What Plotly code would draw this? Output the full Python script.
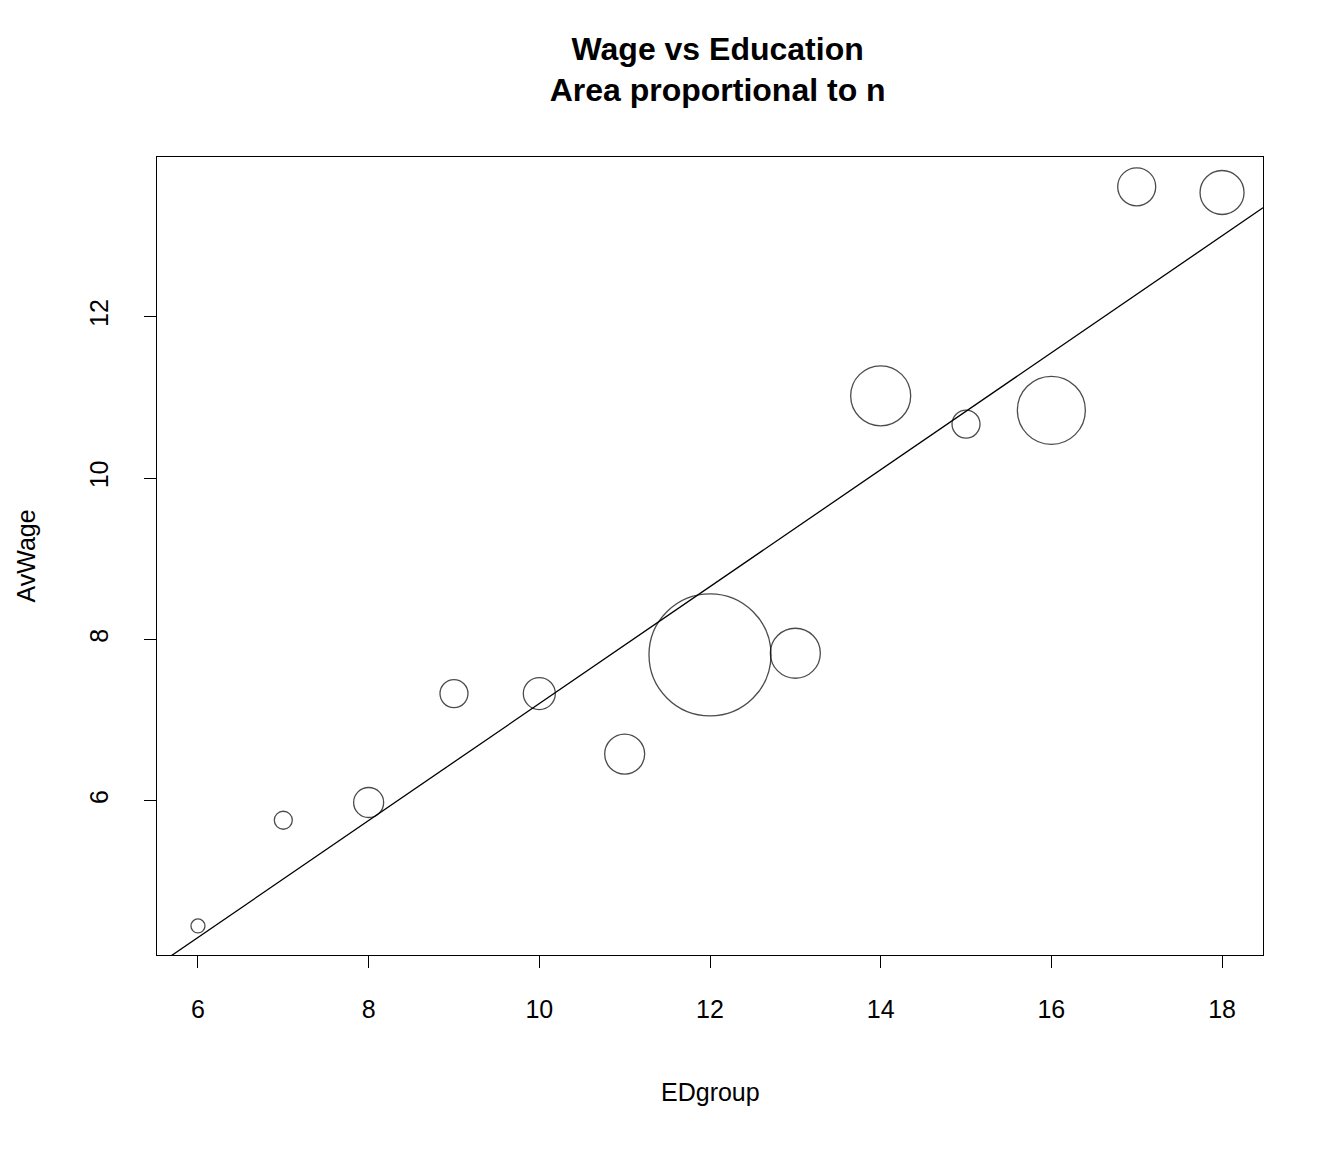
import plotly.graph_objects as go
import numpy as np

ed_group = [6, 7, 8, 9, 10, 11, 12, 13, 14, 15, 16, 17, 18]
av_wage = [4.45, 5.76, 5.98, 7.33, 7.33, 6.58, 7.81, 7.83, 11.02, 10.67, 10.84, 13.61, 13.54]
n_count = [49, 81, 225, 196, 256, 400, 3721, 625, 900, 196, 1156, 361, 484]
fit_intercept = -0.04
fit_slope = 0.7246

x_range = [5.52, 18.48]
y_range = [4.09, 13.98]
x_ticks = [6, 8, 10, 12, 14, 16, 18]
y_ticks = [6, 8, 10, 12]

fig = go.Figure()
fig.add_trace(go.Scatter(
    x=ed_group, y=av_wage, mode="markers",
    marker=dict(size=[2 * np.sqrt(v) for v in n_count], sizemode="diameter",
                color="rgba(0,0,0,0)", line=dict(color="black", width=1.3)),
    showlegend=False))
fig.add_trace(go.Scatter(
    x=x_range, y=[fit_intercept + fit_slope * v for v in x_range],
    mode="lines", line=dict(color="black", width=1.3), showlegend=False))

font = "Liberation Sans, Arial, sans-serif"
axis_common = dict(showline=True, linecolor="black", linewidth=1.3, mirror=True,
                   ticks="outside", ticklen=12, tickcolor="black", tickwidth=1.3,
                   showgrid=False, zeroline=False,
                   tickfont=dict(family=font, size=25, color="black"))
fig.update_xaxes(range=x_range, tickvals=x_ticks, ticklabelstandoff=20, **axis_common)
fig.update_yaxes(range=y_range, tickvals=y_ticks, tickangle=-90, ticklabelstandoff=26,
                 **axis_common)

fig.update_layout(
    width=1344, height=1152, plot_bgcolor="white", paper_bgcolor="white",
    margin=dict(l=149, r=89, t=149, b=205),
    title=dict(text="<b>Wage vs Education<br>Area proportional to n</b>",
               x=0.528, xanchor="center", y=0.955, yanchor="middle",
               font=dict(family=font, size=32, color="black")),
    annotations=[
        dict(text="EDgroup", xref="paper", yref="paper", x=0.5, y=-0.172,
             xanchor="center", yanchor="middle", showarrow=False,
             font=dict(family=font, size=25, color="black")),
        dict(text="AvWage", xref="paper", yref="paper", x=-0.118, y=0.5,
             xanchor="center", yanchor="middle", showarrow=False, textangle=-90,
             font=dict(family=font, size=25, color="black")),
    ],
)
fig.write_html("out.html")
